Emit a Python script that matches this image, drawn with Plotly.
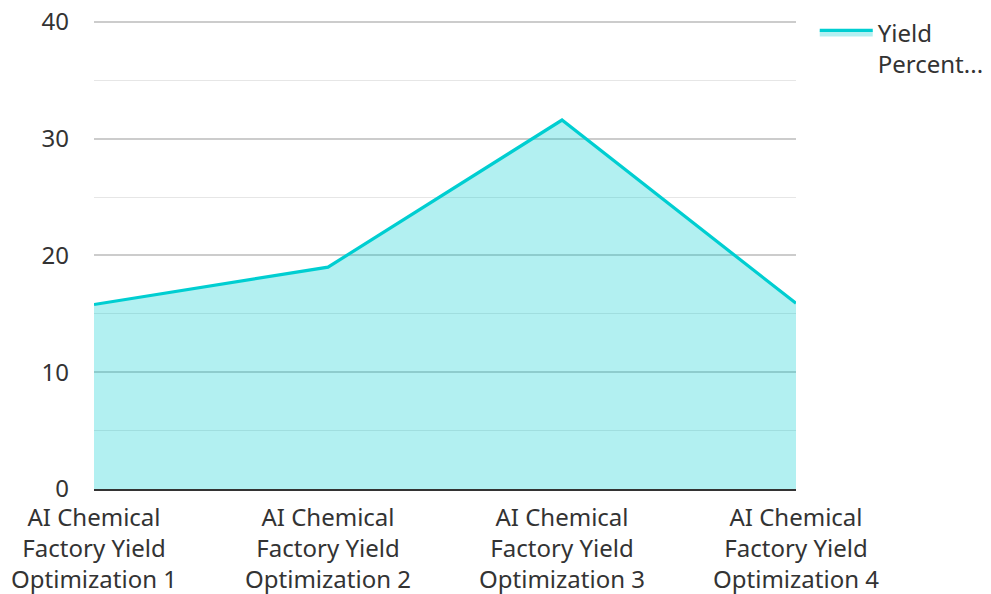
import plotly.graph_objects as go

categories = ["AI Chemical Factory Yield Optimization 1",
              "AI Chemical Factory Yield Optimization 2",
              "AI Chemical Factory Yield Optimization 3",
              "AI Chemical Factory Yield Optimization 4"]
tick_labels = ["AI Chemical<br>Factory Yield<br>Optimization 1",
               "AI Chemical<br>Factory Yield<br>Optimization 2",
               "AI Chemical<br>Factory Yield<br>Optimization 3",
               "AI Chemical<br>Factory Yield<br>Optimization 4"]
yield_percent = [15.8, 19.0, 31.6, 15.9]
series_name = "Yield<br>Percent..."

FONT = "Noto Sans"
TXT = "#333333"
FS = 24

fig = go.Figure()
fig.add_trace(go.Scatter(
    x=categories, y=yield_percent, name=series_name,
    mode="lines", fill="tozeroy",
    line=dict(color="#00CED1", width=3.2),
    fillcolor="rgba(0,206,209,0.3)",
))

fig.update_layout(
    width=991, height=594,
    margin=dict(l=94, r=195, t=20, b=105, autoexpand=False),
    paper_bgcolor="white", plot_bgcolor="white",
    font=dict(family=FONT, size=FS, color=TXT),
    showlegend=True,
    legend=dict(x=1.0267, y=1.0207, xanchor="left", yanchor="top",
                valign="top",
                font=dict(family=FONT, size=FS, color=TXT),
                itemwidth=53, tracegroupgap=0),
)
fig.update_xaxes(
    type="category", range=[0, 3], automargin=False,
    tickvals=categories, ticktext=tick_labels,
    showgrid=False, showline=True, linecolor="#333333", linewidth=2,
    ticks="", ticklabelstandoff=6, ticklabeloverflow="allow",
    tickfont=dict(family=FONT, size=FS, color=TXT),
)
fig.update_yaxes(
    range=[0, 40.17], dtick=10, tick0=0, showgrid=True, gridcolor="#cccccc", gridwidth=1.5,
    zeroline=False, showline=False, ticks="", automargin=False,
    ticklabelstandoff=24, ticklabeloverflow="allow",
    minor=dict(dtick=5, showgrid=True, gridcolor="#e6e6e6", gridwidth=1),
    tickfont=dict(family=FONT, size=FS, color=TXT),
)

fig.write_html("out.html", config={"displayModeBar": False},
               post_script="document.body.style.margin='0px';")
